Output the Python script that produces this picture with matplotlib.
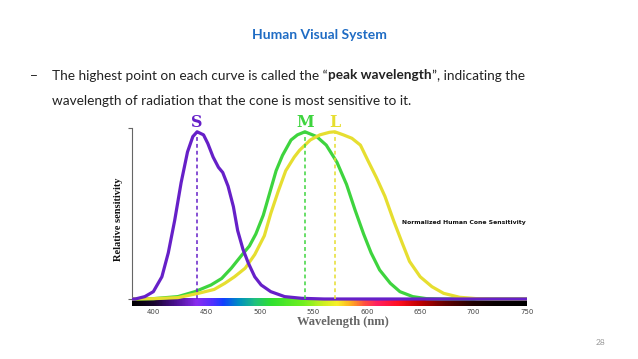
import numpy as np
import matplotlib.pyplot as plt
from matplotlib.colors import LinearSegmentedColormap

# Cone sensitivity curves (wavelength nm, relative value)
s_nm = [380, 383, 392, 400, 408, 414, 420, 426, 432, 437, 441, 447, 451, 456, 461, 465, 470, 475,
        479, 484, 489, 495, 501, 510, 523, 539, 560, 750]
s_val = [0, 0, 0.014, 0.043, 0.13, 0.27, 0.46, 0.68, 0.86, 0.95, 0.978, 0.96, 0.91, 0.83, 0.77, 0.74,
         0.66, 0.54, 0.40, 0.29, 0.21, 0.13, 0.082, 0.043, 0.014, 0.004, 0, 0]

m_nm = [380, 400, 423, 439, 454, 464, 473, 482, 490, 496, 503, 509, 515, 521, 529, 535, 542, 553,
        562, 572, 581, 589, 597, 604, 612, 622, 631, 643, 656, 670, 750]
m_val = [0, 0.002, 0.014, 0.043, 0.082, 0.12, 0.18, 0.25, 0.31, 0.38, 0.49, 0.62, 0.75, 0.84, 0.93,
         0.96, 0.978, 0.95, 0.90, 0.80, 0.67, 0.52, 0.38, 0.27, 0.17, 0.092, 0.043, 0.014, 0.002, 0, 0]

l_nm = [380, 400, 423, 442, 457, 467, 476, 486, 495, 504, 510, 517, 524, 532, 537, 547, 556, 565,
        570, 578, 586, 594, 601, 609, 617, 625, 633, 640, 650, 661, 672, 687, 703, 720, 750]
l_val = [0, 0.002, 0.008, 0.033, 0.056, 0.092, 0.13, 0.18, 0.26, 0.37, 0.50, 0.63, 0.75, 0.83, 0.87,
         0.93, 0.96, 0.975, 0.978, 0.96, 0.94, 0.90, 0.81, 0.71, 0.60, 0.46, 0.33, 0.22, 0.13, 0.072,
         0.033, 0.01, 0.002, 0, 0]

peaks = {'S': 441, 'M': 542, 'L': 570}
peak_val = 0.978
colors = {'S': '#6620c8', 'M': '#3ed43e', 'L': '#e6de30'}

x_ticks = [400, 450, 500, 550, 600, 650, 700, 750]

# spectrum strip colours
spec_nm = [380, 400, 420, 440, 455, 465, 480, 495, 510, 540, 560, 572, 585, 598, 610, 630, 650,
           675, 700, 720, 750]
spec_col = ['#000000', '#1a0530', '#4a1090', '#8a2cf0', '#5030ff', '#1040ff', '#0090c0', '#20c080',
            '#30e030', '#70f020', '#d0f020', '#f8f028', '#ffb020', '#ff5040', '#ff2060', '#ff1020',
            '#c00000', '#600000', '#200000', '#080000', '#000000']

fig = plt.figure(figsize=(6.38, 3.59), dpi=100)

body = dict(fontsize=9.8, color='#222222', family='Lato', va='center', ha='left')
fig.text(0.5, 0.903, 'Human Visual System', ha='center', va='center',
         color='#1f6cc4', fontsize=10, fontweight='bold', family='Lato')
fig.text(0.047, 0.79, '−', **body)
y1 = 0.79
t1 = fig.text(0.082, y1, 'The highest point on each curve is called the “', **body)
fig.canvas.draw()
r = fig.canvas.get_renderer()
x2 = t1.get_window_extent(r).x1 / fig.bbox.width
t2 = fig.text(x2, y1, 'peak wavelength', fontweight='bold', **body)
x3 = t2.get_window_extent(r).x1 / fig.bbox.width
fig.text(x3, y1, '”, indicating the', **body)
fig.text(0.082, 0.718, 'wavelength of radiation that the cone is most sensitive to it.', **body)
fig.text(0.942, 0.047, '28', ha='center', va='center', fontsize=6, color='#999999', family='Lato')

ax = fig.add_axes([0.2069, 0.1476, 0.619, 0.4958])
ax.set_xlim(380, 750)
ax.set_ylim(-0.041, 1.0)

cmap = LinearSegmentedColormap.from_list(
    'spec', [((n - 380) / 370, c) for n, c in zip(spec_nm, spec_col)])
grad = np.linspace(0, 1, 500).reshape(1, -1)
ax.imshow(grad, cmap=cmap, aspect='auto', extent=[380, 750, -0.041, 0], zorder=1)

line_kw = dict(lw=2.3, solid_joinstyle='round', solid_capstyle='round')
ax.plot(m_nm, m_val, color=colors['M'], zorder=3, **line_kw)
ax.plot(l_nm, l_val, color=colors['L'], zorder=4, **line_kw)
ax.plot(s_nm, s_val, color=colors['S'], zorder=5, **line_kw)

for k, nm in peaks.items():
    ax.plot([nm, nm], [0, peak_val], color=colors[k], lw=1.1, ls=(0, (2.5, 2)), zorder=6)
    ax.text(nm, 1.035, k, ha='center', va='center', color=colors[k], fontsize=11.5,
            fontweight='bold', family='DejaVu Serif', clip_on=False)

ax.text(633, 0.445, 'Normalized Human Cone Sensitivity', ha='left', va='center',
        fontsize=4.4, fontweight='bold', color='#111111', family='DejaVu Sans')

for sp in ['top', 'right', 'bottom']:
    ax.spines[sp].set_visible(False)
ax.spines['left'].set_bounds(0, 1)
ax.spines['left'].set_color('#666666')
ax.spines['left'].set_linewidth(0.8)
ax.set_yticks([0, 1])
ax.set_yticklabels([])
ax.tick_params(axis='y', length=3, color='#666666', width=0.8)
ax.set_xticks(x_ticks)
ax.tick_params(axis='x', length=0, labelsize=5, labelcolor='#444444', pad=2.5)

ax.set_xlabel('Wavelength (nm)', family='Liberation Serif', fontsize=9, fontweight='bold',
              color='#666666')
ax.xaxis.set_label_coords(0.534, -0.058)
ax.set_ylabel('Relative sensitivity', family='Liberation Serif', fontsize=7.5, fontweight='bold',
              color='#111111')
ax.yaxis.set_label_coords(-0.022, 0.49)

fig.savefig('out.png', dpi=100)
